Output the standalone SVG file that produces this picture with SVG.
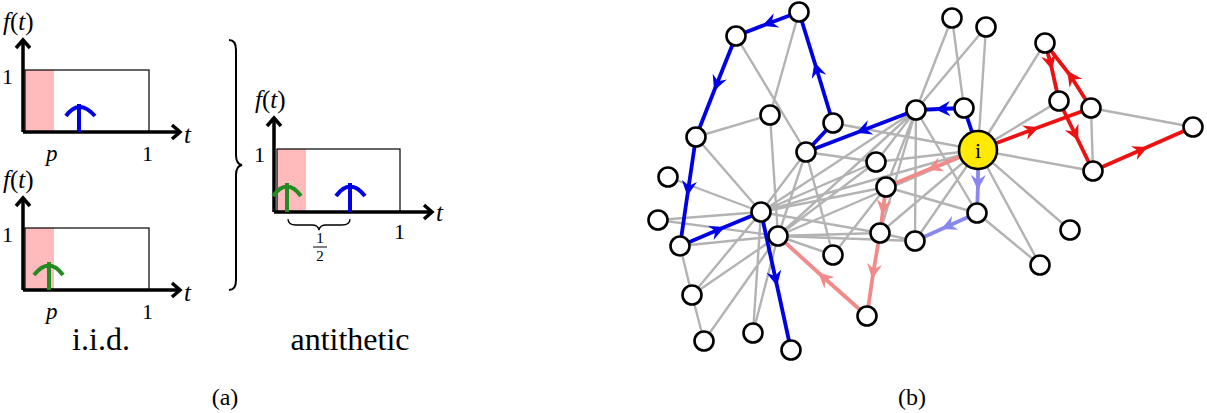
<svg xmlns="http://www.w3.org/2000/svg" width="1207" height="413" viewBox="0 0 1207 413">
<style>
text{font-family:'Liberation Serif','Times New Roman',Tinos,'DejaVu Serif',serif;fill:#000}
.it{font-style:italic}
.ax{stroke:#000;stroke-width:3.5;fill:none}
.box{stroke:#000;stroke-width:1.2;fill:none}
.g{stroke:#b3b3b3;stroke-width:2.4;fill:none}
.b{stroke:#0000e6;stroke-width:3.8;fill:none;marker-mid:url(#mb)}
.lb{stroke:#8888f0;stroke-width:3.8;fill:none;marker-mid:url(#mlb)}
.r{stroke:#ee1111;stroke-width:3.8;fill:none;marker-mid:url(#mr)}
.lr{stroke:#f28a8a;stroke-width:3.8;fill:none;marker-mid:url(#mlr)}
.n circle{fill:#fff;stroke:#000;stroke-width:2.6}
.sa{stroke-width:4;fill:none}
</style>
<defs>
<marker id="mb" viewBox="0 0 12 12" refX="8" refY="6" markerWidth="4" markerHeight="4" orient="auto"><path d="M0,0 L12,6 L0,12 L4,6 z" fill="#0000e6"/></marker>
<marker id="mlb" viewBox="0 0 12 12" refX="8" refY="6" markerWidth="4" markerHeight="4" orient="auto"><path d="M0,0 L12,6 L0,12 L4,6 z" fill="#8888f0"/></marker>
<marker id="mr" viewBox="0 0 12 12" refX="8" refY="6" markerWidth="4" markerHeight="4" orient="auto"><path d="M0,0 L12,6 L0,12 L4,6 z" fill="#ee1111"/></marker>
<marker id="mlr" viewBox="0 0 12 12" refX="8" refY="6" markerWidth="4" markerHeight="4" orient="auto"><path d="M0,0 L12,6 L0,12 L4,6 z" fill="#f28a8a"/></marker>
</defs>
<g id="panel-a">
<g id="plot1">
<rect x="25" y="70" width="29" height="62" fill="#fbb"/>
<rect x="25" y="70" width="124" height="62" class="box"/>
<path d="M23,132 V40 M23,132 H180" class="ax"/>
<path d="M16,48 L23,40 L30,48 M172,125 L180,132 L172,139" class="ax"/>
<path d="M79,132 V104 M66,116 Q79,98 95,116" stroke="#0000e6" class="sa"/>
<text x="3" y="30" font-size="25"><tspan class="it">f</tspan>(<tspan class="it">t</tspan>)</text>
<text x="2" y="84" font-size="22">1</text>
<text x="46" y="161" font-size="23" class="it">p</text>
<text x="142" y="161" font-size="22">1</text>
<text x="184" y="143" font-size="25" class="it">t</text>
</g>
<g id="plot2">
<rect x="25" y="228" width="29" height="62" fill="#fbb"/>
<rect x="25" y="228" width="124" height="62" class="box"/>
<path d="M23,290 V198 M23,290 H180" class="ax"/>
<path d="M16,206 L23,198 L30,206 M172,283 L180,290 L172,297" class="ax"/>
<path d="M49,290 V262 M34,275 Q49,256 63,275" stroke="#228b22" class="sa"/>
<text x="3" y="188" font-size="25"><tspan class="it">f</tspan>(<tspan class="it">t</tspan>)</text>
<text x="2" y="242" font-size="22">1</text>
<text x="46" y="319" font-size="23" class="it">p</text>
<text x="142" y="319" font-size="22">1</text>
<text x="184" y="301" font-size="25" class="it">t</text>
<text x="101" y="350" font-size="32" text-anchor="middle">i.i.d.</text>
</g>
<path d="M229,40 Q236,40 236,50 V155 Q236,164 242,165 Q236,166 236,175 V280 Q236,290 229,290" stroke="#000" stroke-width="2" fill="none"/>
<g id="plot3">
<rect x="277" y="149" width="29" height="63" fill="#fbb"/>
<rect x="277" y="149" width="123" height="63" class="box"/>
<path d="M274,212 V118 M274,212 H432" class="ax"/>
<path d="M267,126 L274,118 L281,126 M424,205 L432,212 L424,219" class="ax"/>
<path d="M287,212 V183 M273,196 Q287,177 301,196" stroke="#228b22" class="sa"/>
<path d="M350,212 V183 M336,196 Q350,177 365,196" stroke="#0000e6" class="sa"/>
<path d="M288,219 Q288,225 296,225 H312 Q318,225 319,230 Q320,225 326,225 H342 Q350,225 350,219" stroke="#000" stroke-width="1.3" fill="none"/>
<text x="320" y="243" font-size="15" text-anchor="middle">1</text>
<line x1="313" y1="247" x2="327" y2="247" stroke="#000" stroke-width="1"/>
<text x="320" y="261" font-size="15" text-anchor="middle">2</text>
<text x="255" y="108" font-size="25"><tspan class="it">f</tspan>(<tspan class="it">t</tspan>)</text>
<text x="254" y="162" font-size="22">1</text>
<text x="394" y="239" font-size="22">1</text>
<text x="436" y="221" font-size="25" class="it">t</text>
<text x="350" y="350" font-size="32" text-anchor="middle">antithetic</text>
</g>
<text x="225" y="405" font-size="24" text-anchor="middle">(a)</text>
</g>
<g id="connectors">
<path class="g" d="M799,12 L770,115 M736,36 L806,152 M770,115 L696,137 M770,115 L778,236 M696,137 L761,212 M806,152 L876,162 M806,152 L778,236 M916,110 L952,18 M916,110 L876,162 M916,110 L886,187 M916,110 L761,212 M916,110 L778,236 M916,110 L880,233 M916,110 L977,213 M916,110 L915,241 M964,108 L952,18 M916,110 L986,27 M986,27 L978,150 M978,150 L1045,43 M978,150 L1059,101 M978,150 L1093,171 M978,150 L1070,230 M978,150 L1040,265 M978,150 L880,233 M978,150 L915,241 M978,150 L876,162 M978,150 L761,212 M978,150 L778,236 M978,150 L833,123 M1091,108 L1093,171 M1091,108 L1193,127 M658,220 L761,212 M658,220 L778,236 M680,246 L778,236 M680,246 L692,295 M692,295 L761,212 M692,295 L778,236 M704,341 L692,295 M704,341 L778,236 M753,333 L761,212 M753,333 L778,236 M778,236 L880,233 M778,236 L915,241 M778,236 L833,255 M778,236 L876,162 M761,212 L876,162 M761,212 L886,187 M761,212 L880,233 M833,255 L886,187 M880,233 L915,241 M977,213 L1040,265 M668,177 L761,212 M806,152 L761,212 M806,152 L833,255 M886,187 L977,213"/>
<path class="b" d="M978,150 L964,108"/>
<path class="b" d="M964,108 L940,109 L916,110"/>
<path class="b" d="M916,110 L861,131 L806,152"/>
<path class="b" d="M806,152 L833,123"/>
<path class="b" d="M833,123 L816,67 L799,12"/>
<path class="b" d="M799,12 L767,24 L736,36"/>
<path class="b" d="M736,36 L716,86 L696,137"/>
<path class="b" d="M696,137 L688,191 L680,246"/>
<path class="b" d="M680,246 L720,229 L761,212"/>
<path class="b" d="M761,212 L776,281 L791,350"/>
<path class="lb" d="M978,150 L978,185 L977,213"/>
<path class="lb" d="M977,213 L946,227 L915,241"/>
<path class="r" d="M978,150 L1034,129 L1091,108"/>
<path class="r" d="M1091,108 L1070,75 L1045,43"/>
<path class="r" d="M1045,43 L1051,65 L1059,101"/>
<path class="r" d="M1059,101 L1076,136 L1093,171"/>
<path class="r" d="M1093,171 L1143,149 L1193,127"/>
<path class="lr" d="M978,150 L932,168 L886,187"/>
<path class="lr" d="M886,187 L883,210 L880,233"/>
<path class="lr" d="M880,233 L873,274 L867,316"/>
<path class="lr" d="M867,316 L822,276 L778,236"/>
</g>
<g id="nodes" class="n">
<circle id="n1" cx="799" cy="12" r="9.5"/><circle id="n2" cx="736" cy="36" r="9.5"/><circle id="n3" cx="770" cy="115" r="9.5"/><circle id="n4" cx="833" cy="123" r="9.5"/><circle id="n5" cx="696" cy="137" r="9.5"/><circle id="n6" cx="806" cy="152" r="9.5"/><circle id="n7" cx="668" cy="177" r="9.5"/><circle id="n8" cx="658" cy="220" r="9.5"/><circle id="n9" cx="680" cy="246" r="9.5"/><circle id="n10" cx="761" cy="212" r="9.5"/><circle id="n11" cx="778" cy="236" r="9.5"/><circle id="n12" cx="692" cy="295" r="9.5"/><circle id="n13" cx="704" cy="341" r="9.5"/><circle id="n14" cx="753" cy="333" r="9.5"/><circle id="n15" cx="791" cy="350" r="9.5"/><circle id="n16" cx="867" cy="316" r="9.5"/><circle id="n17" cx="876" cy="162" r="9.5"/><circle id="n18" cx="886" cy="187" r="9.5"/><circle id="n19" cx="880" cy="233" r="9.5"/><circle id="n20" cx="833" cy="255" r="9.5"/><circle id="n21" cx="916" cy="110" r="9.5"/><circle id="n22" cx="964" cy="108" r="9.5"/><circle id="n24" cx="952" cy="18" r="9.5"/><circle id="n25" cx="986" cy="27" r="9.5"/><circle id="n26" cx="1045" cy="43" r="9.5"/><circle id="n27" cx="1059" cy="101" r="9.5"/><circle id="n28" cx="1091" cy="108" r="9.5"/><circle id="n29" cx="1193" cy="127" r="9.5"/><circle id="n30" cx="1093" cy="171" r="9.5"/><circle id="n31" cx="977" cy="213" r="9.5"/><circle id="n32" cx="915" cy="241" r="9.5"/><circle id="n33" cx="1070" cy="230" r="9.5"/><circle id="n34" cx="1040" cy="265" r="9.5"/>
<g id="node-i"><circle cx="978" cy="150" r="19" style="fill:#ffea00"/><text x="978" y="158" font-size="22" text-anchor="middle">i</text></g>
</g>
<text x="912" y="405" font-size="24" text-anchor="middle">(b)</text>
</svg>
